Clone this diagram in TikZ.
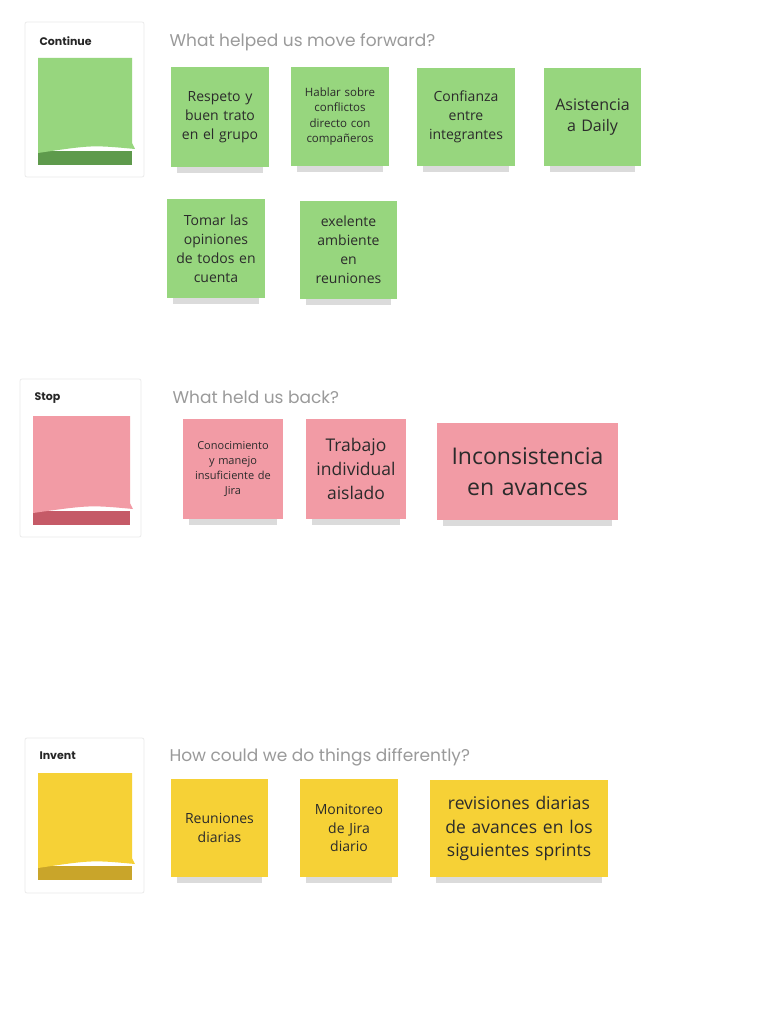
\documentclass[tikz,border=0pt]{standalone}
\usepackage{fontspec}
\setmainfont{Open Sans}
\newfontfamily\headfont{Poppins}
\definecolor{gr}{HTML}{97D67E}
\definecolor{grd}{HTML}{5E9A4C}
\definecolor{rd}{HTML}{F29BA5}
\definecolor{rdd}{HTML}{C55A67}
\definecolor{yl}{HTML}{F6D136}
\definecolor{yld}{HTML}{C9A52A}
\definecolor{hd}{HTML}{9A9A9A}
\definecolor{txt}{HTML}{2B2B2B}
\tikzset{
 card/.style={draw=black!8,fill=white,rounded corners=2pt,line width=0.8pt},
 cardtitle/.style={anchor=west,font=\headfont\bfseries\fontsize{11}{13}\selectfont,text=black!85},
 head/.style={anchor=west,font=\headfont\fontsize{17}{20}\selectfont,text=hd},
 sticky/.style={inner sep=0pt,align=center,text=txt},
}
\newcommand{\stk}[8]{% name, x1,y1,x2,y2, color, fontsize, text
 \pgfmathsetmacro{\sw}{#4-#2}\pgfmathsetmacro{\sh}{#5-#3}\pgfmathsetmacro{\tw}{#4-#2-12}
 \fill[black!14] (#2+6,-#5-6) rectangle (#4-6,-#5+2);
 \node[sticky,fill=#6,minimum width=\sw pt,minimum height=\sh pt,text width=\tw pt,font=\fontsize{#7}{\dimexpr #7pt*135/100\relax}\selectfont] (#1) at ({(#2+#4)/2},{-(#3+#5)/2}) {#8};}
\newcommand{\pad}[6]{% x1 y1 x2 y2 color dark
 \fill[#6] (#1,-#4) rectangle (#3,-#4+14);
 \fill[#5] (#1,-#2) -- (#3,-#2) -- (#3,-#4+22) -- (#3+3,-#4+16) .. controls (#3-40,-#4+20) .. (#1,-#4+12) -- cycle;}
\begin{document}
\begin{tikzpicture}[x=1pt,y=1pt]
\useasboundingbox[fill=white] (0,0) rectangle (768,-1024);
% cards
\draw[card] (25,-22) rectangle (144,-177);
\node[cardtitle] (t1) at (36,-41) {Continue};
\pad{38}{58}{132}{165}{gr}{grd}
\draw[card] (20,-379) rectangle (141,-537);
\node[cardtitle] (t2) at (31,-398) {Stop};
\pad{33}{416}{130}{525}{rd}{rdd}
\draw[card] (25,-738) rectangle (144,-893);
\node[cardtitle] (t3) at (36,-756) {Invent};
\pad{38}{773}{132}{880}{yl}{yld}
% headers
\node[head] (h1) at (166,-42) {What helped us move forward?};
\node[head] (h2) at (169,-397) {What held us back?};
\node[head] (h3) at (166,-757) {How could we do things differently?};
% green
\stk{g1}{171}{67}{269}{167}{gr}{14}{Respeto y\\buen trato\\en el grupo}
\stk{g2}{291}{67}{389}{166}{gr}{11.5}{Hablar sobre\\conflictos\\directo con\\compañeros}
\stk{g3}{417}{68}{515}{166}{gr}{14}{Confianza\\entre\\integrantes}
\stk{g4}{544}{68}{641}{166}{gr}{16}{Asistencia\\a Daily}
\stk{g5}{167}{199}{265}{298}{gr}{14}{Tomar las\\opiniones\\de todos en\\cuenta}
\stk{g6}{300}{201}{397}{299}{gr}{14}{exelente\\ambiente\\en\\reuniones}
% red
\stk{r1}{183}{419}{283}{519}{rd}{11}{Conocimiento\\y manejo\\insuficiente de\\Jira}
\stk{r2}{306}{419}{406}{519}{rd}{17.5}{Trabajo\\individual\\aislado}
\stk{r3}{437}{423}{618}{520}{rd}{23}{Inconsistencia\\en avances}
% yellow
\stk{y1}{171}{779}{268}{877}{yl}{14}{Reuniones\\diarias}
\stk{y2}{300}{779}{398}{877}{yl}{14}{Monitoreo\\de Jira\\diario}
\stk{y3}{430}{780}{608}{877}{yl}{17.5}{revisiones diarias\\de avances en los\\siguientes sprints}
\end{tikzpicture}
\end{document}
